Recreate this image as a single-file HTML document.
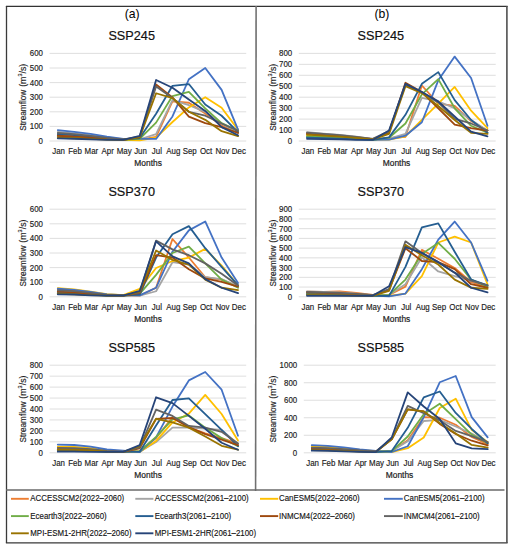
<!DOCTYPE html><html><head><meta charset="utf-8"><style>html,body{margin:0;padding:0;background:#fff}svg{display:block}text{font-family:"Liberation Sans",sans-serif;fill:#222}.t{stroke:#222;stroke-width:0.15px}.m{stroke:#222;stroke-width:0.2px}.ti{fill:#111;stroke:#111;stroke-width:0.2px}.lg{fill:#111;stroke:#111;stroke-width:0.12px}.yt{fill:#222;stroke:#222;stroke-width:0.15px}</style></head><body>
<svg width="515" height="550" viewBox="0 0 515 550">
<rect width="515" height="550" fill="#fff"/>
<line x1="49.6" y1="141" x2="246.2" y2="141" stroke="#D6D6D6" stroke-width="0.8"/>
<line x1="49.6" y1="126.4" x2="246.2" y2="126.4" stroke="#D6D6D6" stroke-width="0.8"/>
<line x1="49.6" y1="111.8" x2="246.2" y2="111.8" stroke="#D6D6D6" stroke-width="0.8"/>
<line x1="49.6" y1="97.2" x2="246.2" y2="97.2" stroke="#D6D6D6" stroke-width="0.8"/>
<line x1="49.6" y1="82.6" x2="246.2" y2="82.6" stroke="#D6D6D6" stroke-width="0.8"/>
<line x1="49.6" y1="68" x2="246.2" y2="68" stroke="#D6D6D6" stroke-width="0.8"/>
<line x1="49.6" y1="53.4" x2="246.2" y2="53.4" stroke="#D6D6D6" stroke-width="0.8"/>
<text transform="translate(43,143.95) scale(1,1.08)" font-size="7.9" text-anchor="end" class="t">0</text>
<text transform="translate(43,129.35) scale(1,1.08)" font-size="7.9" text-anchor="end" class="t">100</text>
<text transform="translate(43,114.75) scale(1,1.08)" font-size="7.9" text-anchor="end" class="t">200</text>
<text transform="translate(43,100.15) scale(1,1.08)" font-size="7.9" text-anchor="end" class="t">300</text>
<text transform="translate(43,85.55) scale(1,1.08)" font-size="7.9" text-anchor="end" class="t">400</text>
<text transform="translate(43,70.95) scale(1,1.08)" font-size="7.9" text-anchor="end" class="t">500</text>
<text transform="translate(43,56.35) scale(1,1.08)" font-size="7.9" text-anchor="end" class="t">600</text>
<text transform="translate(58.59,153.8) scale(1,1.08)" font-size="7.9" text-anchor="middle" class="t">Jan</text>
<text transform="translate(74.97,153.8) scale(1,1.08)" font-size="7.9" text-anchor="middle" class="t">Feb</text>
<text transform="translate(91.36,153.8) scale(1,1.08)" font-size="7.9" text-anchor="middle" class="t">Mar</text>
<text transform="translate(107.74,153.8) scale(1,1.08)" font-size="7.9" text-anchor="middle" class="t">Apr</text>
<text transform="translate(124.12,153.8) scale(1,1.08)" font-size="7.9" text-anchor="middle" class="t">May</text>
<text transform="translate(140.51,153.8) scale(1,1.08)" font-size="7.9" text-anchor="middle" class="t">Jun</text>
<text transform="translate(156.89,153.8) scale(1,1.08)" font-size="7.9" text-anchor="middle" class="t">Jul</text>
<text transform="translate(173.28,153.8) scale(1,1.08)" font-size="7.9" text-anchor="middle" class="t">Aug</text>
<text transform="translate(189.66,153.8) scale(1,1.08)" font-size="7.9" text-anchor="middle" class="t">Sep</text>
<text transform="translate(206.04,153.8) scale(1,1.08)" font-size="7.9" text-anchor="middle" class="t">Oct</text>
<text transform="translate(222.43,153.8) scale(1,1.08)" font-size="7.9" text-anchor="middle" class="t">Nov</text>
<text transform="translate(238.81,153.8) scale(1,1.08)" font-size="7.9" text-anchor="middle" class="t">Dec</text>
<text transform="translate(148.1,166.2) scale(1,1.03)" font-size="8.4" text-anchor="middle" class="m">Months</text>
<text x="131.7" y="40.1" font-size="12.7" text-anchor="middle" class="ti">SSP245</text>
<text transform="translate(25.8,97.2) rotate(-90)" font-size="8.2" text-anchor="middle" class="yt">Streamflow <tspan dx="0.6" font-size="8.8">(m</tspan><tspan font-size="5.6" dy="-3.4">3</tspan><tspan dy="3.4" font-size="8.8">/s)</tspan></text>
<polyline points="57.79,134.87 74.17,135.79 90.56,137.01 106.94,138.55 123.32,139.77 139.71,139.54 156.09,136.91 172.47,101.43 188.86,102.75 205.24,113.41 221.62,125.52 238.01,132.09" fill="none" stroke="#ED7D31" stroke-width="1.8" stroke-linejoin="round" stroke-linecap="round"/>
<polyline points="57.79,131.95 74.17,133.31 90.56,135.12 106.94,137.38 123.32,139.19 139.71,139.25 156.09,134.14 172.47,100.12 188.86,105.23 205.24,111.8 221.62,123.48 238.01,132.97" fill="none" stroke="#A5A5A5" stroke-width="1.8" stroke-linejoin="round" stroke-linecap="round"/>
<polyline points="57.79,136.91 74.17,137.53 90.56,138.34 106.94,139.36 123.32,139.83 139.71,140.27 156.09,137.64 172.47,122.02 188.86,107.42 205.24,97.2 221.62,107.71 238.01,129.61" fill="none" stroke="#FFC000" stroke-width="1.8" stroke-linejoin="round" stroke-linecap="round"/>
<polyline points="57.79,130.2 74.17,131.82 90.56,133.98 106.94,136.68 123.32,138.84 139.71,138.81 156.09,138.96 172.47,116.47 188.86,79.24 205.24,68 221.62,89.9 238.01,129.61" fill="none" stroke="#4472C4" stroke-width="1.8" stroke-linejoin="round" stroke-linecap="round"/>
<polyline points="57.79,136.33 74.17,137.03 90.56,137.96 106.94,139.13 123.32,139.83 139.71,138.81 156.09,122.6 172.47,96.03 188.86,91.8 205.24,108.44 221.62,123.19 238.01,130.78" fill="none" stroke="#70AD47" stroke-width="1.8" stroke-linejoin="round" stroke-linecap="round"/>
<polyline points="57.79,133.99 74.17,135.04 90.56,136.44 106.94,138.2 123.32,139.6 139.71,138.08 156.09,113.7 172.47,85.81 188.86,84.06 205.24,104.5 221.62,115.74 238.01,132.09" fill="none" stroke="#255E91" stroke-width="1.8" stroke-linejoin="round" stroke-linecap="round"/>
<polyline points="57.79,135.74 74.17,136.53 90.56,137.58 106.94,138.9 123.32,139.83 139.71,136.91 156.09,84.5 172.47,97.35 188.86,116.62 205.24,123.19 221.62,127.13 238.01,132.97" fill="none" stroke="#9E480E" stroke-width="1.8" stroke-linejoin="round" stroke-linecap="round"/>
<polyline points="57.79,132.97 74.17,134.17 90.56,135.78 106.94,137.79 123.32,139.39 139.71,136.62 156.09,86.54 172.47,98.08 188.86,111.8 205.24,115.74 221.62,123.48 238.01,130.78" fill="none" stroke="#636363" stroke-width="1.8" stroke-linejoin="round" stroke-linecap="round"/>
<polyline points="57.79,137.79 74.17,138.27 90.56,138.91 106.94,139.72 123.32,139.83 139.71,137.35 156.09,93.26 172.47,98.08 188.86,111.8 205.24,119.83 221.62,131.22 238.01,136.18" fill="none" stroke="#997300" stroke-width="1.8" stroke-linejoin="round" stroke-linecap="round"/>
<polyline points="57.79,138.37 74.17,138.77 90.56,139.29 106.94,139.83 123.32,139.83 139.71,135.89 156.09,79.97 172.47,87.71 188.86,99.54 205.24,110.92 221.62,127.13 238.01,135.31" fill="none" stroke="#264478" stroke-width="1.8" stroke-linejoin="round" stroke-linecap="round"/>
<line x1="49.6" y1="296.8" x2="246.2" y2="296.8" stroke="#D6D6D6" stroke-width="0.8"/>
<line x1="49.6" y1="282.2" x2="246.2" y2="282.2" stroke="#D6D6D6" stroke-width="0.8"/>
<line x1="49.6" y1="267.6" x2="246.2" y2="267.6" stroke="#D6D6D6" stroke-width="0.8"/>
<line x1="49.6" y1="253" x2="246.2" y2="253" stroke="#D6D6D6" stroke-width="0.8"/>
<line x1="49.6" y1="238.4" x2="246.2" y2="238.4" stroke="#D6D6D6" stroke-width="0.8"/>
<line x1="49.6" y1="223.8" x2="246.2" y2="223.8" stroke="#D6D6D6" stroke-width="0.8"/>
<line x1="49.6" y1="209.2" x2="246.2" y2="209.2" stroke="#D6D6D6" stroke-width="0.8"/>
<text transform="translate(43,299.75) scale(1,1.08)" font-size="7.9" text-anchor="end" class="t">0</text>
<text transform="translate(43,285.15) scale(1,1.08)" font-size="7.9" text-anchor="end" class="t">100</text>
<text transform="translate(43,270.55) scale(1,1.08)" font-size="7.9" text-anchor="end" class="t">200</text>
<text transform="translate(43,255.95) scale(1,1.08)" font-size="7.9" text-anchor="end" class="t">300</text>
<text transform="translate(43,241.35) scale(1,1.08)" font-size="7.9" text-anchor="end" class="t">400</text>
<text transform="translate(43,226.75) scale(1,1.08)" font-size="7.9" text-anchor="end" class="t">500</text>
<text transform="translate(43,212.15) scale(1,1.08)" font-size="7.9" text-anchor="end" class="t">600</text>
<text transform="translate(58.59,309.6) scale(1,1.08)" font-size="7.9" text-anchor="middle" class="t">Jan</text>
<text transform="translate(74.97,309.6) scale(1,1.08)" font-size="7.9" text-anchor="middle" class="t">Feb</text>
<text transform="translate(91.36,309.6) scale(1,1.08)" font-size="7.9" text-anchor="middle" class="t">Mar</text>
<text transform="translate(107.74,309.6) scale(1,1.08)" font-size="7.9" text-anchor="middle" class="t">Apr</text>
<text transform="translate(124.12,309.6) scale(1,1.08)" font-size="7.9" text-anchor="middle" class="t">May</text>
<text transform="translate(140.51,309.6) scale(1,1.08)" font-size="7.9" text-anchor="middle" class="t">Jun</text>
<text transform="translate(156.89,309.6) scale(1,1.08)" font-size="7.9" text-anchor="middle" class="t">Jul</text>
<text transform="translate(173.28,309.6) scale(1,1.08)" font-size="7.9" text-anchor="middle" class="t">Aug</text>
<text transform="translate(189.66,309.6) scale(1,1.08)" font-size="7.9" text-anchor="middle" class="t">Sep</text>
<text transform="translate(206.04,309.6) scale(1,1.08)" font-size="7.9" text-anchor="middle" class="t">Oct</text>
<text transform="translate(222.43,309.6) scale(1,1.08)" font-size="7.9" text-anchor="middle" class="t">Nov</text>
<text transform="translate(238.81,309.6) scale(1,1.08)" font-size="7.9" text-anchor="middle" class="t">Dec</text>
<text transform="translate(148.1,322) scale(1,1.03)" font-size="8.4" text-anchor="middle" class="m">Months</text>
<text x="131.7" y="196.2" font-size="12.7" text-anchor="middle" class="ti">SSP370</text>
<text transform="translate(25.8,253) rotate(-90)" font-size="8.2" text-anchor="middle" class="yt">Streamflow <tspan dx="0.6" font-size="8.8">(m</tspan><tspan font-size="5.6" dy="-3.4">3</tspan><tspan dy="3.4" font-size="8.8">/s)</tspan></text>
<polyline points="57.79,289.79 74.17,290.84 90.56,292.6 106.94,294.7 123.32,295.4 139.71,295.63 156.09,287.75 172.47,238.98 188.86,257.53 205.24,277.24 221.62,279.57 238.01,286.58" fill="none" stroke="#ED7D31" stroke-width="1.8" stroke-linejoin="round" stroke-linecap="round"/>
<polyline points="57.79,290.96 74.17,291.84 90.56,293.3 106.94,295.05 123.32,295.63 139.71,295.63 156.09,291.25 172.47,262.2 188.86,264.53 205.24,277.24 221.62,279.13 238.01,286.58" fill="none" stroke="#A5A5A5" stroke-width="1.8" stroke-linejoin="round" stroke-linecap="round"/>
<polyline points="57.79,288.04 74.17,289.35 90.56,291.54 106.94,294.17 123.32,295.05 139.71,288.92 156.09,268.04 172.47,261.03 188.86,257.53 205.24,248.91 221.62,265.7 238.01,285.41" fill="none" stroke="#FFC000" stroke-width="1.8" stroke-linejoin="round" stroke-linecap="round"/>
<polyline points="57.79,288.77 74.17,289.97 90.56,291.98 106.94,294.39 123.32,295.19 139.71,295.34 156.09,287.75 172.47,251.69 188.86,230.37 205.24,221.46 221.62,257.53 238.01,283.08" fill="none" stroke="#4472C4" stroke-width="1.8" stroke-linejoin="round" stroke-linecap="round"/>
<polyline points="57.79,292.42 74.17,293.08 90.56,294.17 106.94,295.49 123.32,295.63 139.71,293.88 156.09,274.9 172.47,253 188.86,246.58 205.24,263.37 221.62,279.57 238.01,287.75" fill="none" stroke="#70AD47" stroke-width="1.8" stroke-linejoin="round" stroke-linecap="round"/>
<polyline points="57.79,293.15 74.17,293.7 90.56,294.61 106.94,295.63 123.32,295.63 139.71,294.61 156.09,257.53 172.47,234.31 188.86,226.14 205.24,248.18 221.62,266.87 238.01,285.41" fill="none" stroke="#255E91" stroke-width="1.8" stroke-linejoin="round" stroke-linecap="round"/>
<polyline points="57.79,291.69 74.17,292.46 90.56,293.73 106.94,295.27 123.32,295.63 139.71,293.15 156.09,255.19 172.47,257.53 188.86,269.21 205.24,278.4 221.62,281.91 238.01,286.58" fill="none" stroke="#9E480E" stroke-width="1.8" stroke-linejoin="round" stroke-linecap="round"/>
<polyline points="57.79,290.23 74.17,291.22 90.56,292.86 106.94,294.83 123.32,295.49 139.71,292.42 156.09,240.59 172.47,249.35 188.86,255.19 205.24,263.37 221.62,273.73 238.01,285.41" fill="none" stroke="#636363" stroke-width="1.8" stroke-linejoin="round" stroke-linecap="round"/>
<polyline points="57.79,293.88 74.17,294.32 90.56,295.05 106.94,295.63 123.32,295.63 139.71,291.69 156.09,250.52 172.47,259.86 188.86,264.53 205.24,279.57 221.62,287.75 238.01,290.08" fill="none" stroke="#997300" stroke-width="1.8" stroke-linejoin="round" stroke-linecap="round"/>
<polyline points="57.79,294.32 74.17,294.69 90.56,295.31 106.94,295.63 123.32,295.63 139.71,290.96 156.09,241.32 172.47,256.36 188.86,263.37 205.24,279.13 221.62,287.75 238.01,293.15" fill="none" stroke="#264478" stroke-width="1.8" stroke-linejoin="round" stroke-linecap="round"/>
<line x1="49.6" y1="452.8" x2="246.2" y2="452.8" stroke="#D6D6D6" stroke-width="0.8"/>
<line x1="49.6" y1="441.85" x2="246.2" y2="441.85" stroke="#D6D6D6" stroke-width="0.8"/>
<line x1="49.6" y1="430.9" x2="246.2" y2="430.9" stroke="#D6D6D6" stroke-width="0.8"/>
<line x1="49.6" y1="419.95" x2="246.2" y2="419.95" stroke="#D6D6D6" stroke-width="0.8"/>
<line x1="49.6" y1="409" x2="246.2" y2="409" stroke="#D6D6D6" stroke-width="0.8"/>
<line x1="49.6" y1="398.05" x2="246.2" y2="398.05" stroke="#D6D6D6" stroke-width="0.8"/>
<line x1="49.6" y1="387.1" x2="246.2" y2="387.1" stroke="#D6D6D6" stroke-width="0.8"/>
<line x1="49.6" y1="376.15" x2="246.2" y2="376.15" stroke="#D6D6D6" stroke-width="0.8"/>
<line x1="49.6" y1="365.2" x2="246.2" y2="365.2" stroke="#D6D6D6" stroke-width="0.8"/>
<text transform="translate(43,455.75) scale(1,1.08)" font-size="7.9" text-anchor="end" class="t">0</text>
<text transform="translate(43,444.8) scale(1,1.08)" font-size="7.9" text-anchor="end" class="t">100</text>
<text transform="translate(43,433.85) scale(1,1.08)" font-size="7.9" text-anchor="end" class="t">200</text>
<text transform="translate(43,422.9) scale(1,1.08)" font-size="7.9" text-anchor="end" class="t">300</text>
<text transform="translate(43,411.95) scale(1,1.08)" font-size="7.9" text-anchor="end" class="t">400</text>
<text transform="translate(43,401) scale(1,1.08)" font-size="7.9" text-anchor="end" class="t">500</text>
<text transform="translate(43,390.05) scale(1,1.08)" font-size="7.9" text-anchor="end" class="t">600</text>
<text transform="translate(43,379.1) scale(1,1.08)" font-size="7.9" text-anchor="end" class="t">700</text>
<text transform="translate(43,368.15) scale(1,1.08)" font-size="7.9" text-anchor="end" class="t">800</text>
<text transform="translate(58.59,465.6) scale(1,1.08)" font-size="7.9" text-anchor="middle" class="t">Jan</text>
<text transform="translate(74.97,465.6) scale(1,1.08)" font-size="7.9" text-anchor="middle" class="t">Feb</text>
<text transform="translate(91.36,465.6) scale(1,1.08)" font-size="7.9" text-anchor="middle" class="t">Mar</text>
<text transform="translate(107.74,465.6) scale(1,1.08)" font-size="7.9" text-anchor="middle" class="t">Apr</text>
<text transform="translate(124.12,465.6) scale(1,1.08)" font-size="7.9" text-anchor="middle" class="t">May</text>
<text transform="translate(140.51,465.6) scale(1,1.08)" font-size="7.9" text-anchor="middle" class="t">Jun</text>
<text transform="translate(156.89,465.6) scale(1,1.08)" font-size="7.9" text-anchor="middle" class="t">Jul</text>
<text transform="translate(173.28,465.6) scale(1,1.08)" font-size="7.9" text-anchor="middle" class="t">Aug</text>
<text transform="translate(189.66,465.6) scale(1,1.08)" font-size="7.9" text-anchor="middle" class="t">Sep</text>
<text transform="translate(206.04,465.6) scale(1,1.08)" font-size="7.9" text-anchor="middle" class="t">Oct</text>
<text transform="translate(222.43,465.6) scale(1,1.08)" font-size="7.9" text-anchor="middle" class="t">Nov</text>
<text transform="translate(238.81,465.6) scale(1,1.08)" font-size="7.9" text-anchor="middle" class="t">Dec</text>
<text transform="translate(148.1,478) scale(1,1.03)" font-size="8.4" text-anchor="middle" class="m">Months</text>
<text x="131.7" y="351.7" font-size="12.7" text-anchor="middle" class="ti">SSP585</text>
<text transform="translate(25.8,409) rotate(-90)" font-size="8.2" text-anchor="middle" class="yt">Streamflow <tspan dx="0.6" font-size="8.8">(m</tspan><tspan font-size="5.6" dy="-3.4">3</tspan><tspan dy="3.4" font-size="8.8">/s)</tspan></text>
<polyline points="57.79,448.97 74.17,449.16 90.56,449.93 106.94,451.27 123.32,451.84 139.71,451.16 156.09,438.02 172.47,417.32 188.86,427.61 205.24,433.42 221.62,438.13 238.01,443.49" fill="none" stroke="#ED7D31" stroke-width="1.8" stroke-linejoin="round" stroke-linecap="round"/>
<polyline points="57.79,447.54 74.17,447.81 90.56,448.86 106.94,450.7 123.32,451.49 139.71,451.7 156.09,442.07 172.47,427.61 188.86,427.61 205.24,428.71 221.62,429.91 238.01,443.93" fill="none" stroke="#A5A5A5" stroke-width="1.8" stroke-linejoin="round" stroke-linecap="round"/>
<polyline points="57.79,446.56 74.17,446.87 90.56,448.12 106.94,450.3 123.32,451.24 139.71,451.92 156.09,440.97 172.47,422.47 188.86,413.6 205.24,394.87 221.62,414.04 238.01,440.43" fill="none" stroke="#FFC000" stroke-width="1.8" stroke-linejoin="round" stroke-linecap="round"/>
<polyline points="57.79,444.59 74.17,445 90.56,446.64 106.94,449.51 123.32,450.75 139.71,452.14 156.09,437.36 172.47,406.59 188.86,380.42 205.24,371.99 221.62,389.73 238.01,435.72" fill="none" stroke="#4472C4" stroke-width="1.8" stroke-linejoin="round" stroke-linecap="round"/>
<polyline points="57.79,450.06 74.17,450.2 90.56,450.75 106.94,451.7 123.32,451.92 139.71,451.16 156.09,436.81 172.47,419.4 188.86,415.46 205.24,427.61 221.62,438.13 238.01,446.23" fill="none" stroke="#70AD47" stroke-width="1.8" stroke-linejoin="round" stroke-linecap="round"/>
<polyline points="57.79,450.61 74.17,450.72 90.56,451.16 106.94,451.92 123.32,451.92 139.71,451.7 156.09,425.53 172.47,400.02 188.86,398.38 205.24,414.04 221.62,429.91 238.01,446.23" fill="none" stroke="#255E91" stroke-width="1.8" stroke-linejoin="round" stroke-linecap="round"/>
<polyline points="57.79,449.19 74.17,449.37 90.56,450.09 106.94,451.35 123.32,451.9 139.71,448.42 156.09,418.85 172.47,417.98 188.86,427.07 205.24,434.18 221.62,439.66 238.01,445.13" fill="none" stroke="#9E480E" stroke-width="1.8" stroke-linejoin="round" stroke-linecap="round"/>
<polyline points="57.79,447.87 74.17,448.12 90.56,449.1 106.94,450.83 123.32,451.57 139.71,447.32 156.09,409.66 172.47,415.9 188.86,425.97 205.24,427.61 221.62,431.78 238.01,443.49" fill="none" stroke="#636363" stroke-width="1.8" stroke-linejoin="round" stroke-linecap="round"/>
<polyline points="57.79,449.73 74.17,449.89 90.56,450.5 106.94,451.57 123.32,451.92 139.71,446.23 156.09,418.75 172.47,422.47 188.86,427.61 205.24,436.48 221.62,445.79 238.01,449.73" fill="none" stroke="#997300" stroke-width="1.8" stroke-linejoin="round" stroke-linecap="round"/>
<polyline points="57.79,451.7 74.17,451.7 90.56,451.81 106.94,451.92 123.32,451.92 139.71,445.13 156.09,397.28 172.47,403.09 188.86,415.9 205.24,428.71 221.62,442.73 238.01,449.73" fill="none" stroke="#264478" stroke-width="1.8" stroke-linejoin="round" stroke-linecap="round"/>
<line x1="298.8" y1="141" x2="495.7" y2="141" stroke="#D6D6D6" stroke-width="0.8"/>
<line x1="298.8" y1="130.05" x2="495.7" y2="130.05" stroke="#D6D6D6" stroke-width="0.8"/>
<line x1="298.8" y1="119.1" x2="495.7" y2="119.1" stroke="#D6D6D6" stroke-width="0.8"/>
<line x1="298.8" y1="108.15" x2="495.7" y2="108.15" stroke="#D6D6D6" stroke-width="0.8"/>
<line x1="298.8" y1="97.2" x2="495.7" y2="97.2" stroke="#D6D6D6" stroke-width="0.8"/>
<line x1="298.8" y1="86.25" x2="495.7" y2="86.25" stroke="#D6D6D6" stroke-width="0.8"/>
<line x1="298.8" y1="75.3" x2="495.7" y2="75.3" stroke="#D6D6D6" stroke-width="0.8"/>
<line x1="298.8" y1="64.35" x2="495.7" y2="64.35" stroke="#D6D6D6" stroke-width="0.8"/>
<line x1="298.8" y1="53.4" x2="495.7" y2="53.4" stroke="#D6D6D6" stroke-width="0.8"/>
<text transform="translate(292.2,143.95) scale(1,1.08)" font-size="7.9" text-anchor="end" class="t">0</text>
<text transform="translate(292.2,133) scale(1,1.08)" font-size="7.9" text-anchor="end" class="t">100</text>
<text transform="translate(292.2,122.05) scale(1,1.08)" font-size="7.9" text-anchor="end" class="t">200</text>
<text transform="translate(292.2,111.1) scale(1,1.08)" font-size="7.9" text-anchor="end" class="t">300</text>
<text transform="translate(292.2,100.15) scale(1,1.08)" font-size="7.9" text-anchor="end" class="t">400</text>
<text transform="translate(292.2,89.2) scale(1,1.08)" font-size="7.9" text-anchor="end" class="t">500</text>
<text transform="translate(292.2,78.25) scale(1,1.08)" font-size="7.9" text-anchor="end" class="t">600</text>
<text transform="translate(292.2,67.3) scale(1,1.08)" font-size="7.9" text-anchor="end" class="t">700</text>
<text transform="translate(292.2,56.35) scale(1,1.08)" font-size="7.9" text-anchor="end" class="t">800</text>
<text transform="translate(307.8,153.8) scale(1,1.08)" font-size="7.9" text-anchor="middle" class="t">Jan</text>
<text transform="translate(324.21,153.8) scale(1,1.08)" font-size="7.9" text-anchor="middle" class="t">Feb</text>
<text transform="translate(340.62,153.8) scale(1,1.08)" font-size="7.9" text-anchor="middle" class="t">Mar</text>
<text transform="translate(357.03,153.8) scale(1,1.08)" font-size="7.9" text-anchor="middle" class="t">Apr</text>
<text transform="translate(373.44,153.8) scale(1,1.08)" font-size="7.9" text-anchor="middle" class="t">May</text>
<text transform="translate(389.85,153.8) scale(1,1.08)" font-size="7.9" text-anchor="middle" class="t">Jun</text>
<text transform="translate(406.25,153.8) scale(1,1.08)" font-size="7.9" text-anchor="middle" class="t">Jul</text>
<text transform="translate(422.66,153.8) scale(1,1.08)" font-size="7.9" text-anchor="middle" class="t">Aug</text>
<text transform="translate(439.07,153.8) scale(1,1.08)" font-size="7.9" text-anchor="middle" class="t">Sep</text>
<text transform="translate(455.48,153.8) scale(1,1.08)" font-size="7.9" text-anchor="middle" class="t">Oct</text>
<text transform="translate(471.89,153.8) scale(1,1.08)" font-size="7.9" text-anchor="middle" class="t">Nov</text>
<text transform="translate(488.3,153.8) scale(1,1.08)" font-size="7.9" text-anchor="middle" class="t">Dec</text>
<text transform="translate(396.55,166.2) scale(1,1.03)" font-size="8.4" text-anchor="middle" class="m">Months</text>
<text x="380.9" y="40.1" font-size="12.7" text-anchor="middle" class="ti">SSP245</text>
<text transform="translate(275.8,97.2) rotate(-90)" font-size="8.2" text-anchor="middle" class="yt">Streamflow <tspan dx="0.6" font-size="8.8">(m</tspan><tspan font-size="5.6" dy="-3.4">3</tspan><tspan dy="3.4" font-size="8.8">/s)</tspan></text>
<polyline points="307,133.34 323.41,134.48 339.82,135.63 356.23,137.17 372.64,139.08 389.05,138.26 405.45,136.73 421.86,85.48 438.27,103.66 454.68,105.96 471.09,121.07 487.5,130.49" fill="none" stroke="#ED7D31" stroke-width="1.8" stroke-linejoin="round" stroke-linecap="round"/>
<polyline points="307,132.24 323.41,133.55 339.82,134.87 356.23,136.62 372.64,138.81 389.05,138.59 405.45,133.88 421.86,97.86 438.27,101.36 454.68,108.26 471.09,119.98 487.5,130.49" fill="none" stroke="#A5A5A5" stroke-width="1.8" stroke-linejoin="round" stroke-linecap="round"/>
<polyline points="307,135.53 323.41,136.35 339.82,137.17 356.23,138.26 372.64,139.63 389.05,139.69 405.45,136.29 421.86,119.98 438.27,103.66 454.68,86.91 471.09,110.67 487.5,128.08" fill="none" stroke="#FFC000" stroke-width="1.8" stroke-linejoin="round" stroke-linecap="round"/>
<polyline points="307,136.95 323.41,137.56 339.82,138.16 356.23,138.97 372.64,139.91 389.05,139.69 405.45,135.74 421.86,122.28 438.27,80.34 454.68,56.58 471.09,78.04 487.5,125.78" fill="none" stroke="#4472C4" stroke-width="1.8" stroke-linejoin="round" stroke-linecap="round"/>
<polyline points="307,136.29 323.41,137 339.82,137.7 356.23,138.65 372.64,139.82 389.05,137.72 405.45,123.48 421.86,94.35 438.27,79.13 454.68,108.26 471.09,125.78 487.5,132.79" fill="none" stroke="#70AD47" stroke-width="1.8" stroke-linejoin="round" stroke-linecap="round"/>
<polyline points="307,137.72 323.41,138.21 339.82,138.7 356.23,139.36 372.64,139.91 389.05,137.39 405.45,114.83 421.86,83.84 438.27,72.12 454.68,100.16 471.09,119.98 487.5,132.79" fill="none" stroke="#255E91" stroke-width="1.8" stroke-linejoin="round" stroke-linecap="round"/>
<polyline points="307,133.77 323.41,134.86 339.82,135.94 356.23,137.39 372.64,139.19 389.05,132.79 405.45,82.75 421.86,92.05 438.27,108.26 454.68,124.58 471.09,128.08 487.5,130.49" fill="none" stroke="#9E480E" stroke-width="1.8" stroke-linejoin="round" stroke-linecap="round"/>
<polyline points="307,132.57 323.41,133.83 339.82,135.1 356.23,136.78 372.64,138.89 389.05,131.15 405.45,85.05 421.86,92.05 438.27,102.46 454.68,118.77 471.09,123.48 487.5,130.49" fill="none" stroke="#636363" stroke-width="1.8" stroke-linejoin="round" stroke-linecap="round"/>
<polyline points="307,134.65 323.41,135.6 339.82,136.55 356.23,137.82 372.64,139.41 389.05,133.88 405.45,86.25 421.86,93.15 438.27,105.96 454.68,119.98 471.09,132.79 487.5,133.88" fill="none" stroke="#997300" stroke-width="1.8" stroke-linejoin="round" stroke-linecap="round"/>
<polyline points="307,138.81 323.41,139.14 339.82,139.47 356.23,139.91 372.64,139.91 389.05,130.49 405.45,83.84 421.86,92.05 438.27,101.36 454.68,116.47 471.09,131.58 487.5,136.29" fill="none" stroke="#264478" stroke-width="1.8" stroke-linejoin="round" stroke-linecap="round"/>
<line x1="298.8" y1="296.8" x2="495.7" y2="296.8" stroke="#D6D6D6" stroke-width="0.8"/>
<line x1="298.8" y1="287.07" x2="495.7" y2="287.07" stroke="#D6D6D6" stroke-width="0.8"/>
<line x1="298.8" y1="277.33" x2="495.7" y2="277.33" stroke="#D6D6D6" stroke-width="0.8"/>
<line x1="298.8" y1="267.6" x2="495.7" y2="267.6" stroke="#D6D6D6" stroke-width="0.8"/>
<line x1="298.8" y1="257.87" x2="495.7" y2="257.87" stroke="#D6D6D6" stroke-width="0.8"/>
<line x1="298.8" y1="248.13" x2="495.7" y2="248.13" stroke="#D6D6D6" stroke-width="0.8"/>
<line x1="298.8" y1="238.4" x2="495.7" y2="238.4" stroke="#D6D6D6" stroke-width="0.8"/>
<line x1="298.8" y1="228.67" x2="495.7" y2="228.67" stroke="#D6D6D6" stroke-width="0.8"/>
<line x1="298.8" y1="218.93" x2="495.7" y2="218.93" stroke="#D6D6D6" stroke-width="0.8"/>
<line x1="298.8" y1="209.2" x2="495.7" y2="209.2" stroke="#D6D6D6" stroke-width="0.8"/>
<text transform="translate(292.2,299.75) scale(1,1.08)" font-size="7.9" text-anchor="end" class="t">0</text>
<text transform="translate(292.2,290.02) scale(1,1.08)" font-size="7.9" text-anchor="end" class="t">100</text>
<text transform="translate(292.2,280.28) scale(1,1.08)" font-size="7.9" text-anchor="end" class="t">200</text>
<text transform="translate(292.2,270.55) scale(1,1.08)" font-size="7.9" text-anchor="end" class="t">300</text>
<text transform="translate(292.2,260.82) scale(1,1.08)" font-size="7.9" text-anchor="end" class="t">400</text>
<text transform="translate(292.2,251.08) scale(1,1.08)" font-size="7.9" text-anchor="end" class="t">500</text>
<text transform="translate(292.2,241.35) scale(1,1.08)" font-size="7.9" text-anchor="end" class="t">600</text>
<text transform="translate(292.2,231.62) scale(1,1.08)" font-size="7.9" text-anchor="end" class="t">700</text>
<text transform="translate(292.2,221.88) scale(1,1.08)" font-size="7.9" text-anchor="end" class="t">800</text>
<text transform="translate(292.2,212.15) scale(1,1.08)" font-size="7.9" text-anchor="end" class="t">900</text>
<text transform="translate(307.8,309.6) scale(1,1.08)" font-size="7.9" text-anchor="middle" class="t">Jan</text>
<text transform="translate(324.21,309.6) scale(1,1.08)" font-size="7.9" text-anchor="middle" class="t">Feb</text>
<text transform="translate(340.62,309.6) scale(1,1.08)" font-size="7.9" text-anchor="middle" class="t">Mar</text>
<text transform="translate(357.03,309.6) scale(1,1.08)" font-size="7.9" text-anchor="middle" class="t">Apr</text>
<text transform="translate(373.44,309.6) scale(1,1.08)" font-size="7.9" text-anchor="middle" class="t">May</text>
<text transform="translate(389.85,309.6) scale(1,1.08)" font-size="7.9" text-anchor="middle" class="t">Jun</text>
<text transform="translate(406.25,309.6) scale(1,1.08)" font-size="7.9" text-anchor="middle" class="t">Jul</text>
<text transform="translate(422.66,309.6) scale(1,1.08)" font-size="7.9" text-anchor="middle" class="t">Aug</text>
<text transform="translate(439.07,309.6) scale(1,1.08)" font-size="7.9" text-anchor="middle" class="t">Sep</text>
<text transform="translate(455.48,309.6) scale(1,1.08)" font-size="7.9" text-anchor="middle" class="t">Oct</text>
<text transform="translate(471.89,309.6) scale(1,1.08)" font-size="7.9" text-anchor="middle" class="t">Nov</text>
<text transform="translate(488.3,309.6) scale(1,1.08)" font-size="7.9" text-anchor="middle" class="t">Dec</text>
<text transform="translate(396.55,322) scale(1,1.03)" font-size="8.4" text-anchor="middle" class="m">Months</text>
<text x="380.9" y="196.2" font-size="12.7" text-anchor="middle" class="ti">SSP370</text>
<text transform="translate(275.8,253) rotate(-90)" font-size="8.2" text-anchor="middle" class="yt">Streamflow <tspan dx="0.6" font-size="8.8">(m</tspan><tspan font-size="5.6" dy="-3.4">3</tspan><tspan dy="3.4" font-size="8.8">/s)</tspan></text>
<polyline points="307,291.74 323.41,291.93 339.82,291.45 356.23,292.91 372.64,294.85 389.05,294.85 405.45,286.58 421.86,249.89 438.27,258.74 454.68,267.99 471.09,281.91 487.5,287.75" fill="none" stroke="#ED7D31" stroke-width="1.8" stroke-linejoin="round" stroke-linecap="round"/>
<polyline points="307,291.35 323.41,291.89 339.82,292.44 356.23,293.53 372.64,294.89 389.05,294.66 405.45,284.24 421.86,257.28 438.27,271.49 454.68,276.17 471.09,280.74 487.5,285.41" fill="none" stroke="#A5A5A5" stroke-width="1.8" stroke-linejoin="round" stroke-linecap="round"/>
<polyline points="307,292.91 323.41,293.3 339.82,293.69 356.23,294.46 372.64,295.44 389.05,295.83 405.45,293.59 421.86,276.17 438.27,242.49 454.68,236.65 471.09,242.49 487.5,284.24" fill="none" stroke="#FFC000" stroke-width="1.8" stroke-linejoin="round" stroke-linecap="round"/>
<polyline points="307,293.39 323.41,293.73 339.82,294.07 356.23,294.76 372.64,295.61 389.05,296.31 405.45,293.59 421.86,269.16 438.27,239.67 454.68,221.56 471.09,242.49 487.5,280.74" fill="none" stroke="#4472C4" stroke-width="1.8" stroke-linejoin="round" stroke-linecap="round"/>
<polyline points="307,293.88 323.41,294.17 339.82,294.46 356.23,295.05 372.64,295.78 389.05,294.85 405.45,279.57 421.86,254.07 438.27,242.88 454.68,258.74 471.09,279.57 487.5,286.58" fill="none" stroke="#70AD47" stroke-width="1.8" stroke-linejoin="round" stroke-linecap="round"/>
<polyline points="307,294.37 323.41,294.61 339.82,294.85 356.23,295.34 372.64,295.83 389.05,295.83 405.45,266.82 421.86,227.3 438.27,223.41 454.68,251.73 471.09,279.57 487.5,285.41" fill="none" stroke="#255E91" stroke-width="1.8" stroke-linejoin="round" stroke-linecap="round"/>
<polyline points="307,292.42 323.41,292.86 339.82,293.3 356.23,294.17 372.64,295.27 389.05,289.99 405.45,248.23 421.86,260.98 438.27,262.15 454.68,269.16 471.09,284.24 487.5,287.75" fill="none" stroke="#9E480E" stroke-width="1.8" stroke-linejoin="round" stroke-linecap="round"/>
<polyline points="307,291.93 323.41,292.42 339.82,292.91 356.23,293.88 372.64,295.1 389.05,289.01 405.45,241.32 421.86,252.9 438.27,262.15 454.68,272.66 471.09,280.74 487.5,285.41" fill="none" stroke="#636363" stroke-width="1.8" stroke-linejoin="round" stroke-linecap="round"/>
<polyline points="307,295.05 323.41,295.22 339.82,295.4 356.23,295.75 372.64,295.83 389.05,290.96 405.45,244.82 421.86,255.24 438.27,264.49 454.68,279.57 471.09,287.75 487.5,288.92" fill="none" stroke="#997300" stroke-width="1.8" stroke-linejoin="round" stroke-linecap="round"/>
<polyline points="307,295.83 323.41,295.83 339.82,295.83 356.23,295.83 372.64,295.83 389.05,286.29 405.45,247.06 421.86,252.9 438.27,262.15 454.68,272.66 471.09,287.75 487.5,292.42" fill="none" stroke="#264478" stroke-width="1.8" stroke-linejoin="round" stroke-linecap="round"/>
<line x1="303.8" y1="452.8" x2="495.7" y2="452.8" stroke="#D6D6D6" stroke-width="0.8"/>
<line x1="303.8" y1="435.28" x2="495.7" y2="435.28" stroke="#D6D6D6" stroke-width="0.8"/>
<line x1="303.8" y1="417.76" x2="495.7" y2="417.76" stroke="#D6D6D6" stroke-width="0.8"/>
<line x1="303.8" y1="400.24" x2="495.7" y2="400.24" stroke="#D6D6D6" stroke-width="0.8"/>
<line x1="303.8" y1="382.72" x2="495.7" y2="382.72" stroke="#D6D6D6" stroke-width="0.8"/>
<line x1="303.8" y1="365.2" x2="495.7" y2="365.2" stroke="#D6D6D6" stroke-width="0.8"/>
<text transform="translate(297.2,455.75) scale(1,1.08)" font-size="7.9" text-anchor="end" class="t">0</text>
<text transform="translate(297.2,438.23) scale(1,1.08)" font-size="7.9" text-anchor="end" class="t">200</text>
<text transform="translate(297.2,420.71) scale(1,1.08)" font-size="7.9" text-anchor="end" class="t">400</text>
<text transform="translate(297.2,403.19) scale(1,1.08)" font-size="7.9" text-anchor="end" class="t">600</text>
<text transform="translate(297.2,385.67) scale(1,1.08)" font-size="7.9" text-anchor="end" class="t">800</text>
<text transform="translate(297.2,368.15) scale(1,1.08)" font-size="7.9" text-anchor="end" class="t">1000</text>
<text transform="translate(312.6,465.6) scale(1,1.08)" font-size="7.9" text-anchor="middle" class="t">Jan</text>
<text transform="translate(328.59,465.6) scale(1,1.08)" font-size="7.9" text-anchor="middle" class="t">Feb</text>
<text transform="translate(344.58,465.6) scale(1,1.08)" font-size="7.9" text-anchor="middle" class="t">Mar</text>
<text transform="translate(360.57,465.6) scale(1,1.08)" font-size="7.9" text-anchor="middle" class="t">Apr</text>
<text transform="translate(376.56,465.6) scale(1,1.08)" font-size="7.9" text-anchor="middle" class="t">May</text>
<text transform="translate(392.55,465.6) scale(1,1.08)" font-size="7.9" text-anchor="middle" class="t">Jun</text>
<text transform="translate(408.55,465.6) scale(1,1.08)" font-size="7.9" text-anchor="middle" class="t">Jul</text>
<text transform="translate(424.54,465.6) scale(1,1.08)" font-size="7.9" text-anchor="middle" class="t">Aug</text>
<text transform="translate(440.53,465.6) scale(1,1.08)" font-size="7.9" text-anchor="middle" class="t">Sep</text>
<text transform="translate(456.52,465.6) scale(1,1.08)" font-size="7.9" text-anchor="middle" class="t">Oct</text>
<text transform="translate(472.51,465.6) scale(1,1.08)" font-size="7.9" text-anchor="middle" class="t">Nov</text>
<text transform="translate(488.5,465.6) scale(1,1.08)" font-size="7.9" text-anchor="middle" class="t">Dec</text>
<text transform="translate(399.55,478) scale(1,1.03)" font-size="8.4" text-anchor="middle" class="m">Months</text>
<text x="380.9" y="351.7" font-size="12.7" text-anchor="middle" class="ti">SSP585</text>
<text transform="translate(275.8,409) rotate(-90)" font-size="8.2" text-anchor="middle" class="yt">Streamflow <tspan dx="0.6" font-size="8.8">(m</tspan><tspan font-size="5.6" dy="-3.4">3</tspan><tspan dy="3.4" font-size="8.8">/s)</tspan></text>
<polyline points="311.8,447.98 327.79,448.46 343.78,449.43 359.77,450.63 375.76,451.6 391.75,451.05 407.75,440.36 423.74,417.15 439.73,417.76 455.72,424.77 471.71,437.03 487.7,444.3" fill="none" stroke="#ED7D31" stroke-width="1.8" stroke-linejoin="round" stroke-linecap="round"/>
<polyline points="311.8,446.84 327.79,447.44 343.78,448.63 359.77,450.12 375.76,451.31 391.75,451.05 407.75,441.32 423.74,421 439.73,419.95 455.72,426.52 471.71,433.53 487.7,442.11" fill="none" stroke="#A5A5A5" stroke-width="1.8" stroke-linejoin="round" stroke-linecap="round"/>
<polyline points="311.8,446.23 327.79,446.89 343.78,448.2 359.77,449.84 375.76,451.16 391.75,452.01 407.75,448.16 423.74,437.47 439.73,407.95 455.72,398.66 471.71,429.85 487.7,442.11" fill="none" stroke="#FFC000" stroke-width="1.8" stroke-linejoin="round" stroke-linecap="round"/>
<polyline points="311.8,445.18 327.79,445.94 343.78,447.47 359.77,449.37 375.76,450.89 391.75,452.01 407.75,446.23 423.74,417.15 439.73,382.28 455.72,375.97 471.71,417.15 487.7,437.38" fill="none" stroke="#4472C4" stroke-width="1.8" stroke-linejoin="round" stroke-linecap="round"/>
<polyline points="311.8,449.3 327.79,449.65 343.78,450.35 359.77,451.22 375.76,451.92 391.75,451.05 407.75,436.51 423.74,414.26 439.73,403.74 455.72,419.16 471.71,434.58 487.7,443.25" fill="none" stroke="#70AD47" stroke-width="1.8" stroke-linejoin="round" stroke-linecap="round"/>
<polyline points="311.8,449.73 327.79,450.04 343.78,450.65 359.77,451.42 375.76,452.03 391.75,451.05 407.75,427.83 423.74,397.35 439.73,391.48 455.72,412.94 471.71,428.97 487.7,443.25" fill="none" stroke="#255E91" stroke-width="1.8" stroke-linejoin="round" stroke-linecap="round"/>
<polyline points="311.8,448.6 327.79,449.02 343.78,449.86 359.77,450.91 375.76,451.75 391.75,439.4 407.75,409.35 423.74,411.37 439.73,423.89 455.72,433.97 471.71,440.71 487.7,445.44" fill="none" stroke="#9E480E" stroke-width="1.8" stroke-linejoin="round" stroke-linecap="round"/>
<polyline points="311.8,447.54 327.79,448.07 343.78,449.12 359.77,450.43 375.76,451.49 391.75,438.78 407.75,405.93 423.74,413.29 439.73,420.39 455.72,430.9 471.71,436.16 487.7,442.11" fill="none" stroke="#636363" stroke-width="1.8" stroke-linejoin="round" stroke-linecap="round"/>
<polyline points="311.8,450.17 327.79,450.43 343.78,450.96 359.77,451.62 375.76,452.1 391.75,439.4 407.75,409.35 423.74,411.37 439.73,423.02 455.72,433.53 471.71,444.92 487.7,447.54" fill="none" stroke="#997300" stroke-width="1.8" stroke-linejoin="round" stroke-linecap="round"/>
<polyline points="311.8,450.7 327.79,450.91 343.78,451.33 359.77,451.85 375.76,452.1 391.75,437.47 407.75,392.36 423.74,406.46 439.73,419.07 455.72,443.34 471.71,448.42 487.7,449.12" fill="none" stroke="#264478" stroke-width="1.8" stroke-linejoin="round" stroke-linecap="round"/>
<text transform="translate(132.2,18.1)" font-size="12.2" text-anchor="middle" style="fill:#000">(a)</text>
<text transform="translate(381.9,18.1)" font-size="12.2" text-anchor="middle" style="fill:#000">(b)</text>
<line x1="6.5" y1="5.9" x2="6.5" y2="543.1" stroke="#3a3a3a" stroke-width="1.3"/>
<line x1="5.9" y1="6.3" x2="507.6" y2="6.3" stroke="#333" stroke-width="1.3"/>
<line x1="5.9" y1="542.9" x2="507.6" y2="542.9" stroke="#383838" stroke-width="1.3"/>
<line x1="506.9" y1="5.9" x2="506.9" y2="543.1" stroke="#505050" stroke-width="1.6"/>
<line x1="256.1" y1="6" x2="255.6" y2="491" stroke="#707070" stroke-width="1.6"/>
<line x1="6" y1="490" x2="504.5" y2="490" stroke="#6a6a6a" stroke-width="1.3"/>
<line x1="11" y1="498.8" x2="28.8" y2="498.8" stroke="#ED7D31" stroke-width="1.9"/>
<text transform="translate(30.3,501.4) scale(1,1.1)" font-size="7.9" class="lg">ACCESSCM2(2022–2060)</text>
<line x1="135.3" y1="498.8" x2="153.4" y2="498.8" stroke="#A5A5A5" stroke-width="1.9"/>
<text transform="translate(154.8,501.4) scale(1,1.1)" font-size="7.9" class="lg">ACCESSCM2(2061–2100)</text>
<line x1="260" y1="498.8" x2="278.2" y2="498.8" stroke="#FFC000" stroke-width="1.9"/>
<text transform="translate(279,501.4) scale(1,1.1)" font-size="7.9" class="lg">CanESM5(2022–2060)</text>
<line x1="384" y1="498.8" x2="402.8" y2="498.8" stroke="#4472C4" stroke-width="1.9"/>
<text transform="translate(403.8,501.4) scale(1,1.1)" font-size="7.9" class="lg">CanESM5(2061–2100)</text>
<line x1="11" y1="516.1" x2="28.8" y2="516.1" stroke="#70AD47" stroke-width="1.9"/>
<text transform="translate(30.3,518.7) scale(1,1.1)" font-size="7.9" class="lg">Ecearth3(2022–2060)</text>
<line x1="135.3" y1="516.1" x2="153.4" y2="516.1" stroke="#255E91" stroke-width="1.9"/>
<text transform="translate(154.8,518.7) scale(1,1.1)" font-size="7.9" class="lg">Ecearth3(2061–2100)</text>
<line x1="260" y1="516.1" x2="278.2" y2="516.1" stroke="#9E480E" stroke-width="1.9"/>
<text transform="translate(279,518.7) scale(1,1.1)" font-size="7.9" class="lg">INMCM4(2022–2060)</text>
<line x1="384" y1="516.1" x2="402.8" y2="516.1" stroke="#636363" stroke-width="1.9"/>
<text transform="translate(403.8,518.7) scale(1,1.1)" font-size="7.9" class="lg">INMCM4(2061–2100)</text>
<line x1="11" y1="533.3" x2="28.8" y2="533.3" stroke="#997300" stroke-width="1.9"/>
<text transform="translate(30.3,535.9) scale(1,1.1)" font-size="7.9" class="lg">MPI-ESM1-2HR(2022–2060)</text>
<line x1="135.3" y1="533.3" x2="153.4" y2="533.3" stroke="#264478" stroke-width="1.9"/>
<text transform="translate(154.8,535.9) scale(1,1.1)" font-size="7.9" class="lg">MPI-ESM1-2HR(2061–2100)</text>
</svg></body></html>
